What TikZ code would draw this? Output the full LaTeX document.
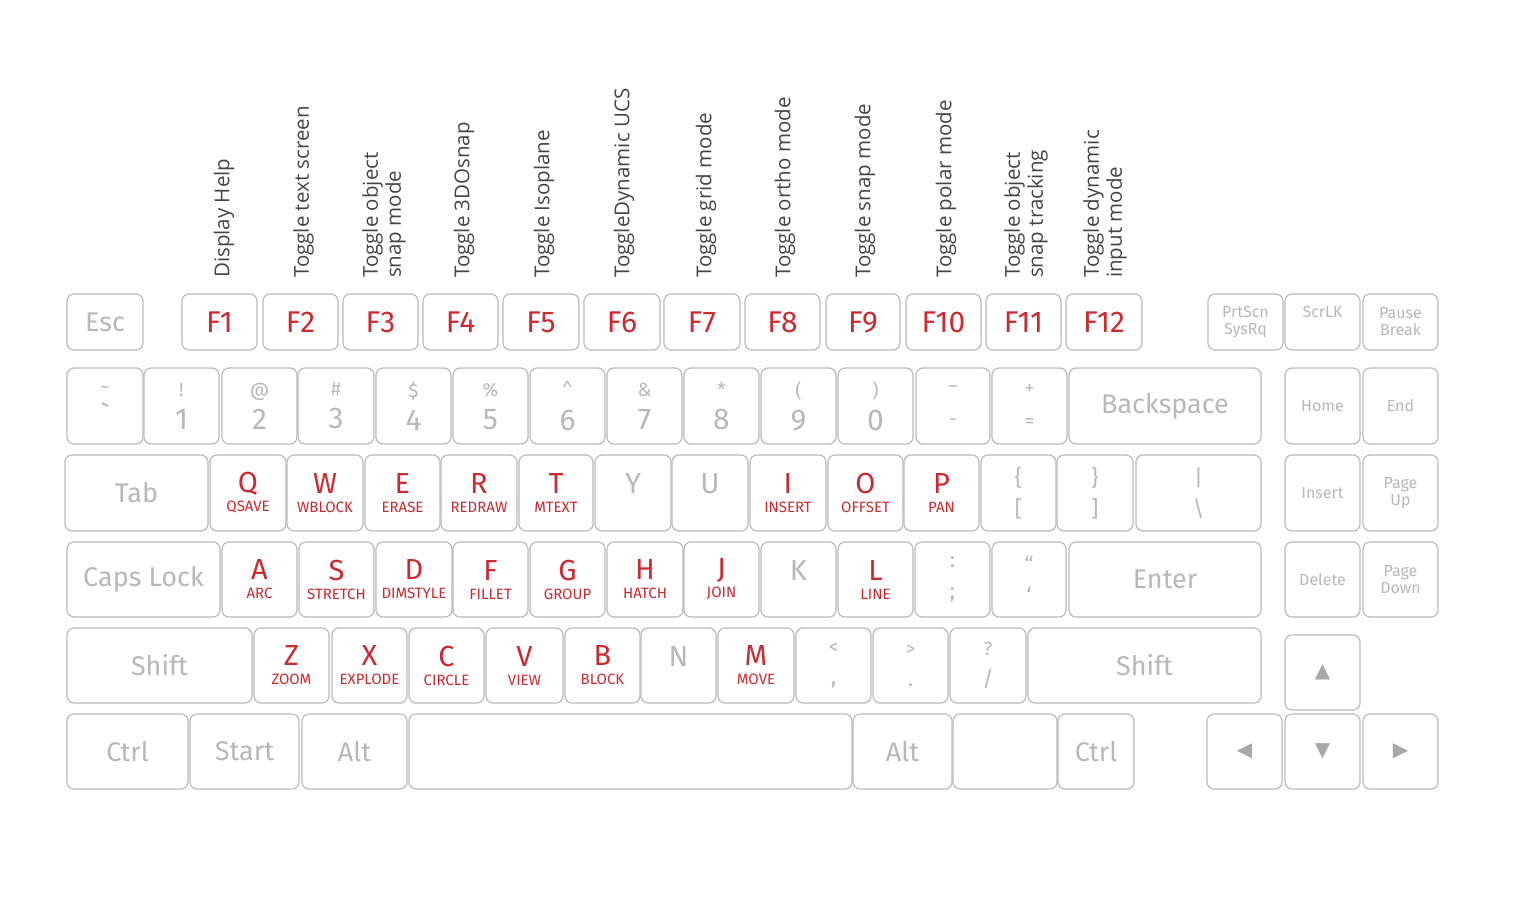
\documentclass[tikz,border=0pt]{standalone}
\usepackage{fontspec}
\setmainfont{Fira Sans}
\newfontfamily\lblfont{Open Sans}
\newfontfamily\symfont{DejaVu Sans}
\definecolor{keyred}{HTML}{CB2A31}
\definecolor{keygray}{HTML}{B8B8B8}
\definecolor{keyline}{HTML}{BBBBBB}
\definecolor{lblcol}{HTML}{454545}
\definecolor{arrcol}{HTML}{A8A8A8}
\tikzset{
  keybox/.style={draw=keyline, line width=1.2pt, rounded corners=7pt, inner sep=0pt, align=center, fill=white},
  wordkey/.style={text=keygray, font=\fontsize{27}{30}\selectfont},
  fnkey/.style={text=keyred, font=\fontsize{30}{30}\selectfont},
  navkey/.style={text=keygray, font=\fontsize{16}{17}\selectfont},
  numkey/.style={text=keygray, font=\fontsize{19}{33}\selectfont},
  letkey/.style={text=keyred, font=\fontsize{15}{19}\selectfont},
  glkey/.style={text=keygray, font=\fontsize{15}{19}\selectfont},
  symkey/.style={text=keygray, font=\fontsize{22}{31}\selectfont},
  arrkey/.style={text=arrcol, font=\symfont\fontsize{20}{20}\selectfont},
  fnlabel/.style={rotate=90, anchor=west, align=left, text=lblcol, inner sep=0pt,
    font=\lblfont\fontsize{20.5}{23}\selectfont},
}
% key: [style]{name}{x1}{y1}{x2}{y2}{content}
\newcommand\KK[7][]{\node[keybox,#1,minimum width={(#5-#3)*1pt},minimum height={(#6-#4)*1pt}] (#2) at ({(#3+#5)/2},{(#4+#6)/2}) {#7};}
\newcommand\NK[2]{\fontsize{19}{33}\selectfont #1\\\fontsize{30}{33}\selectfont #2}
\newcommand\LK[2]{\fontsize{29}{19}\selectfont #1\\\fontsize{15}{19}\selectfont #2}
\newcommand\GK[1]{\fontsize{29}{19}\selectfont #1\\\fontsize{15}{19}\selectfont\phantom{X}}
\newcommand\SK[2]{\fontsize{22}{31}\selectfont #1\\\fontsize{22}{31}\selectfont #2}
\newcommand\PK[2]{\fontsize{19}{31}\selectfont #1\\\fontsize{22}{31}\selectfont #2}
\begin{document}
\begin{tikzpicture}[x=1pt,y=-1pt]
\fill[white] (0,0) rectangle (1536,911);
\useasboundingbox (0,0) rectangle (1536,911);

% ---------- function row ----------
\KK[wordkey]{esc}{67}{294}{143}{350}{Esc}
\KK[fnkey]{f1}{182}{294}{257}{350}{F1}
\KK[fnkey]{f2}{263}{294}{338}{350}{F2}
\KK[fnkey]{f3}{343}{294}{418}{350}{F3}
\KK[fnkey]{f4}{423}{294}{498}{350}{F4}
\KK[fnkey]{f5}{503}{294}{579}{350}{F5}
\KK[fnkey]{f6}{584}{294}{660}{350}{F6}
\KK[fnkey]{f7}{664}{294}{740}{350}{F7}
\KK[fnkey]{f8}{745}{294}{820}{350}{F8}
\KK[fnkey]{f9}{826}{294}{900}{350}{F9}
\KK[fnkey]{f10}{906}{294}{981}{350}{F10}
\KK[fnkey]{f11}{986}{294}{1061}{350}{F11}
\KK[fnkey]{f12}{1066}{294}{1142}{350}{F12}
\KK[navkey]{prt}{1208}{294}{1283}{350}{PrtScn\\SysRq}
\KK[navkey]{scr}{1285}{294}{1360}{350}{ScrLK\\\phantom{SysRq}}
\KK[navkey]{pause}{1363}{294}{1438}{350}{Pause\\Break}

% ---------- number row ----------
\KK[numkey]{tilde}{67}{368}{143}{444}{\NK{\textasciitilde}{\textasciigrave}}
\KK[numkey]{k1}{144}{368}{219}{444}{\NK{!}{1}}
\KK[numkey]{k2}{222}{368}{297}{444}{\NK{@}{2}}
\KK[numkey]{k3}{298}{368}{374}{444}{\NK{\#}{3}}
\KK[numkey]{k4}{376}{368}{451}{444}{\NK{\$}{4}}
\KK[numkey]{k5}{453}{368}{528}{444}{\NK{\%}{5}}
\KK[numkey]{k6}{530}{368}{605}{444}{\NK{\textasciicircum}{6}}
\KK[numkey]{k7}{607}{368}{682}{444}{\NK{\&}{7}}
\KK[numkey]{k8}{684}{368}{759}{444}{\NK{*}{8}}
\KK[numkey]{k9}{761}{368}{836}{444}{\NK{(}{9}}
\KK[numkey]{k0}{838}{368}{913}{444}{\NK{)}{0}}
\KK[numkey]{minus}{916}{368}{990}{444}{\fontsize{19}{33}\selectfont –\\\fontsize{19}{33}\selectfont -}
\KK[numkey]{equal}{992}{368}{1067}{444}{\fontsize{19}{33}\selectfont +\\\fontsize{19}{33}\selectfont =}
\KK[wordkey]{bksp}{1069}{368}{1261}{444}{Backspace}
\KK[navkey]{home}{1285}{368}{1360}{444}{Home}
\KK[navkey]{end}{1363}{368}{1438}{444}{End}

% ---------- qwerty row ----------
\KK[wordkey]{tab}{65}{455}{208}{531}{Tab}
\KK[letkey]{q}{210}{455}{286}{531}{\LK{Q}{QSAVE}}
\KK[letkey]{w}{287}{455}{363}{531}{\LK{W}{WBLOCK}}
\KK[letkey]{e}{365}{455}{440}{531}{\LK{E}{ERASE}}
\KK[letkey]{r}{441}{455}{517}{531}{\LK{R}{REDRAW}}
\KK[letkey]{t}{519}{455}{593}{531}{\LK{T}{MTEXT}}
\KK[glkey]{y}{595}{455}{671}{531}{\GK{Y}}
\KK[glkey]{u}{672}{455}{748}{531}{\GK{U}}
\KK[letkey]{i}{750}{455}{826}{531}{\LK{I}{INSERT}}
\KK[letkey]{o}{828}{455}{903}{531}{\LK{O}{OFFSET}}
\KK[letkey]{p}{904}{455}{979}{531}{\LK{P}{PAN}}
\KK[symkey]{lbr}{981}{455}{1056}{531}{\SK{\{}{[}}
\KK[symkey]{rbr}{1057}{455}{1133}{531}{\SK{\}}{]}}
\KK[symkey]{bsl}{1136}{455}{1261}{531}{\SK{|}{\textbackslash}}
\KK[navkey]{ins}{1285}{455}{1360}{531}{Insert}
\KK[navkey]{pgup}{1363}{455}{1438}{531}{Page\\Up}

% ---------- home row ----------
\KK[wordkey]{caps}{67}{542}{220}{617}{Caps Lock}
\KK[letkey]{a}{222}{542}{297}{617}{\LK{A}{ARC}}
\KK[letkey]{s}{299}{542}{374}{617}{\LK{S}{STRETCH}}
\KK[letkey]{d}{376}{542}{452}{617}{\LK{D}{DIMSTYLE}}
\KK[letkey]{f}{453}{542}{528}{617}{\LK{F}{FILLET}}
\KK[letkey]{g}{530}{542}{605}{617}{\LK{G}{GROUP}}
\KK[letkey]{h}{607}{542}{683}{617}{\LK{H}{HATCH}}
\KK[letkey]{j}{684}{542}{759}{617}{\LK{J}{JOIN}}
\KK[glkey]{k}{761}{542}{836}{617}{\GK{K}}
\KK[letkey]{l}{838}{542}{913}{617}{\LK{L}{LINE}}
\KK[symkey]{semi}{915}{542}{990}{617}{\SK{:}{;}}
\KK[symkey]{quote}{992}{542}{1066}{617}{\SK{“}{‘}}
\KK[wordkey]{enter}{1069}{542}{1261}{617}{Enter}
\KK[navkey]{del}{1285}{542}{1360}{617}{Delete}
\KK[navkey]{pgdn}{1363}{542}{1438}{617}{Page\\Down}

% ---------- shift row ----------
\KK[wordkey]{lshift}{67}{628}{252}{703}{Shift}
\KK[letkey]{z}{254}{628}{329}{703}{\LK{Z}{ZOOM}}
\KK[letkey]{x}{332}{628}{407}{703}{\LK{X}{EXPLODE}}
\KK[letkey]{c}{409}{628}{484}{703}{\LK{C}{CIRCLE}}
\KK[letkey]{v}{486}{628}{563}{703}{\LK{V}{VIEW}}
\KK[letkey]{b}{565}{628}{640}{703}{\LK{B}{BLOCK}}
\KK[glkey]{n}{641}{628}{716}{703}{\GK{N}}
\KK[letkey]{m}{718}{628}{794}{703}{\LK{M}{MOVE}}
\KK[symkey]{comma}{796}{628}{871}{703}{\PK{<}{,}}
\KK[symkey]{period}{873}{628}{948}{703}{\PK{>}{.}}
\KK[symkey]{slash}{950}{628}{1026}{703}{\PK{?}{/}}
\KK[wordkey]{rshift}{1028}{628}{1261}{703}{Shift}
\KK[arrkey]{up}{1285}{635}{1360}{710}{▲}

% ---------- bottom row ----------
\KK[wordkey]{lctrl}{67}{714}{188}{789}{Ctrl}
\KK[wordkey]{start}{190}{714}{299}{789}{Start}
\KK[wordkey]{lalt}{302}{714}{407}{789}{Alt}
\KK[wordkey]{space}{409}{714}{852}{789}{}
\KK[wordkey]{ralt}{853}{714}{952}{789}{Alt}
\KK[wordkey]{blank}{953}{714}{1057}{789}{}
\KK[wordkey]{rctrl}{1058}{714}{1134}{789}{Ctrl}
\KK[arrkey]{left}{1207}{714}{1282}{789}{◀}
\KK[arrkey]{down}{1285}{714}{1360}{789}{▼}
\KK[arrkey]{right}{1363}{714}{1438}{789}{▶}

% ---------- function labels ----------
\node[fnlabel] (l1) at (224,278) {Display Help};
\node[fnlabel] (l2) at (303.5,278) {Toggle text screen};
\node[fnlabel] (l3) at (384,278) {Toggle object\\snap mode};
\node[fnlabel] (l4) at (464,278) {Toggle 3DOsnap};
\node[fnlabel] (l5) at (544,278) {Toggle Isoplane};
\node[fnlabel] (l6) at (624,278) {ToggleDynamic UCS};
\node[fnlabel] (l7) at (706,278) {Toggle grid mode};
\node[fnlabel] (l8) at (785,278) {Toggle ortho mode};
\node[fnlabel] (l9) at (865,278) {Toggle snap mode};
\node[fnlabel] (l10) at (946,278) {Toggle polar mode};
\node[fnlabel] (l11) at (1026,278) {Toggle object\\snap tracking};
\node[fnlabel] (l12) at (1105,278) {Toggle dynamic\\input mode};
\end{tikzpicture}
\end{document}
